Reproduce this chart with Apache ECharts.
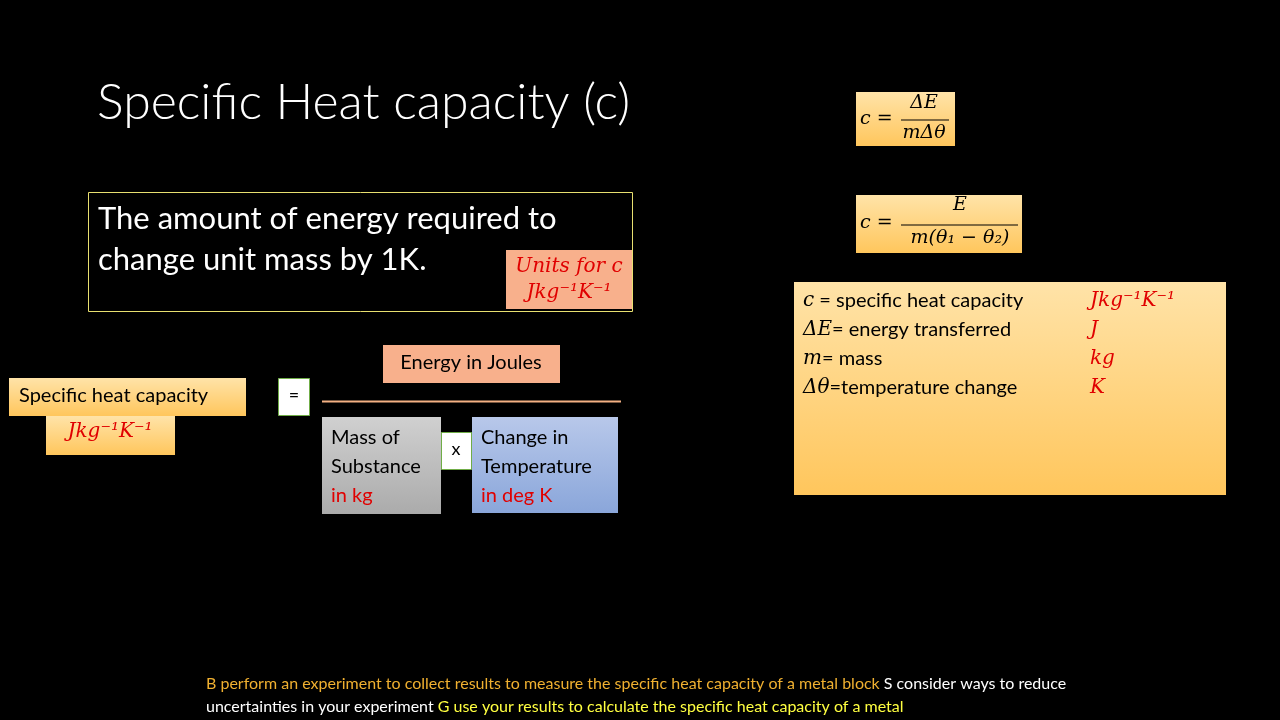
<!DOCTYPE html>
<html><head><meta charset="utf-8">
<script src="https://cdn.jsdelivr.net/npm/echarts@6/dist/echarts.min.js"></script>
<style>html,body{margin:0;padding:0;background:#000}#c{width:1280px;height:720px}</style>
</head><body><div id="c"></div>
<script>
const title = "Specific Heat capacity (c)";
const definition = ["The amount of energy required to", "change unit mass by 1K."];
const unitsLabel = ["Units for c", "Jkg⁻¹K⁻¹"];
const wordEq = ["Specific heat capacity", "Jkg⁻¹K⁻¹", "=", "Energy in Joules", "x"];
const massBox = ["Mass of", "Substance", "in kg"];
const tempBox = ["Change in", "Temperature", "in deg K"];
const symbols = ["c = specific heat capacity", "ΔE= energy transferred", "m= mass", "Δθ=temperature change"];
const symItalic = ["c", "ΔE", "m", "Δθ"];
const symRest = [" = specific heat capacity", "= energy transferred", "= mass", "=temperature change"];
const symUnits = ["Jkg⁻¹K⁻¹", "J", "kg", "K"];
const footer = ["B perform an experiment to collect results to measure the specific heat capacity of a metal block", " S consider ways to reduce", "uncertainties in your experiment ", "G use your results to calculate the specific heat capacity of a metal"];

const sans = "Lato, 'Open Sans', sans-serif";
const serif = "'DejaVu Serif', 'Liberation Serif', serif";
const yGrad = {type:'linear',x:0,y:0,x2:0,y2:1,colorStops:[{offset:0,color:'#FFE3A8'},{offset:1,color:'#FFC65C'}]};
const gGrad = {type:'linear',x:0,y:0,x2:0,y2:1,colorStops:[{offset:0,color:'#D0D0D0'},{offset:1,color:'#ABABAB'}]};
const bGrad = {type:'linear',x:0,y:0,x2:0,y2:1,colorStops:[{offset:0,color:'#B8C8EA'},{offset:1,color:'#8AA6DA'}]};
const salmon = '#F8B08C';
const g = [];
function rect(x,y,w,h,fill,stroke){g.push({type:'rect',shape:{x,y,width:w,height:h},style:{fill,stroke:stroke||null,lineWidth:1}});}
function text(x,y,t,size,color,font,extra){g.push({type:'text',x,y,style:Object.assign({text:t,fontSize:size,fill:color,fontFamily:font||sans},extra||{})});}
function line(x1,y1,x2,y2,c,w){g.push({type:'line',shape:{x1,y1,x2,y2},style:{stroke:c,lineWidth:w||1}});}

text(97,78,title,50,'#fff',sans,{fontWeight:300});
rect(88.5,192.5,544,119,'#000','#E8E070');
text(98,198,definition.join('\n'),31,'#fff',sans,{lineHeight:41});
rect(506,250,126,59,salmon);
text(569,254,unitsLabel.join('\n'),20,'#E00000',serif,{fontStyle:'italic',align:'center',lineHeight:26});

rect(9,378,237,38,yGrad);
text(19,386,wordEq[0],20,'#000');
rect(46,416,129,39,yGrad);
text(110,422,wordEq[1],20,'#E00000',serif,{fontStyle:'italic',align:'center'});
rect(278.5,378.5,31,37,'#fff','#70AD47');
text(294,386,wordEq[2],18,'#000',sans,{align:'center'});
rect(383,345,177,38,salmon);
text(471,353,wordEq[3],20,'#000',sans,{align:'center'});
line(322,401.5,621,401.5,'#F4B183',2);
rect(322,417,119,97,gGrad);
g.push({type:'text',x:331,y:423,style:{text:'{a|'+massBox[0]+'}\n{a|'+massBox[1]+'}\n{r|'+massBox[2]+'}',fontFamily:sans,lineHeight:29,rich:{a:{fontSize:20,fill:'#000',fontFamily:sans},r:{fontSize:20,fill:'#E00000',fontFamily:sans}}}});
rect(441.5,432.5,30,37,'#fff','#70AD47');
text(456,440,wordEq[4],18,'#000',sans,{align:'center'});
rect(472,417,146,96,bGrad);
g.push({type:'text',x:481,y:423,style:{text:'{a|'+tempBox[0]+'}\n{a|'+tempBox[1]+'}\n{r|'+tempBox[2]+'}',fontFamily:sans,lineHeight:29,rich:{a:{fontSize:20,fill:'#000',fontFamily:sans},r:{fontSize:20,fill:'#E00000',fontFamily:sans}}}});

// formula 1
rect(856,92,99,54,yGrad);
text(860,110,'c =',19,'#000',serif,{fontStyle:'italic'});
text(924,94,'ΔE',19,'#000',serif,{fontStyle:'italic',align:'center'});
line(901,120,949,120,'#000',1);
text(924,124,'mΔθ',19,'#000',serif,{fontStyle:'italic',align:'center'});
// formula 2
rect(856,195,166,58,yGrad);
text(860,214,'c =',19,'#000',serif,{fontStyle:'italic'});
text(960,196,'E',19,'#000',serif,{fontStyle:'italic',align:'center'});
line(901,225,1018,225,'#000',1);
text(960,229,'m(θ₁ − θ₂)',19,'#000',serif,{fontStyle:'italic',align:'center'});

rect(794,282,432,213,yGrad);
for(let i=0;i<symRest.length;i++){
  const y=291+i*29;
  g.push({type:'text',x:803,y,style:{text:'{i|'+symItalic[i]+'}{n|'+symRest[i]+'}',rich:{i:{fontSize:20,fill:'#000',fontFamily:serif,fontStyle:'italic'},n:{fontSize:20,fill:'#000',fontFamily:sans}}}});
  text(1090,y,symUnits[i],20,'#E00000',serif,{fontStyle:'italic'});
}

g.push({type:'text',x:206,y:672,style:{text:'{o|'+footer[0]+'}{w|'+footer[1]+'}\n{w|'+footer[2]+'}{y|'+footer[3]+'}',lineHeight:23,rich:{o:{fontSize:16,fill:'#F0B030',fontFamily:sans},w:{fontSize:16,fill:'#fff',fontFamily:sans},y:{fontSize:16,fill:'#FFFF40',fontFamily:sans}}}});

const chart = echarts.init(document.getElementById('c'));
chart.setOption({backgroundColor:'#000',graphic:{elements:g}});
</script></body></html>
